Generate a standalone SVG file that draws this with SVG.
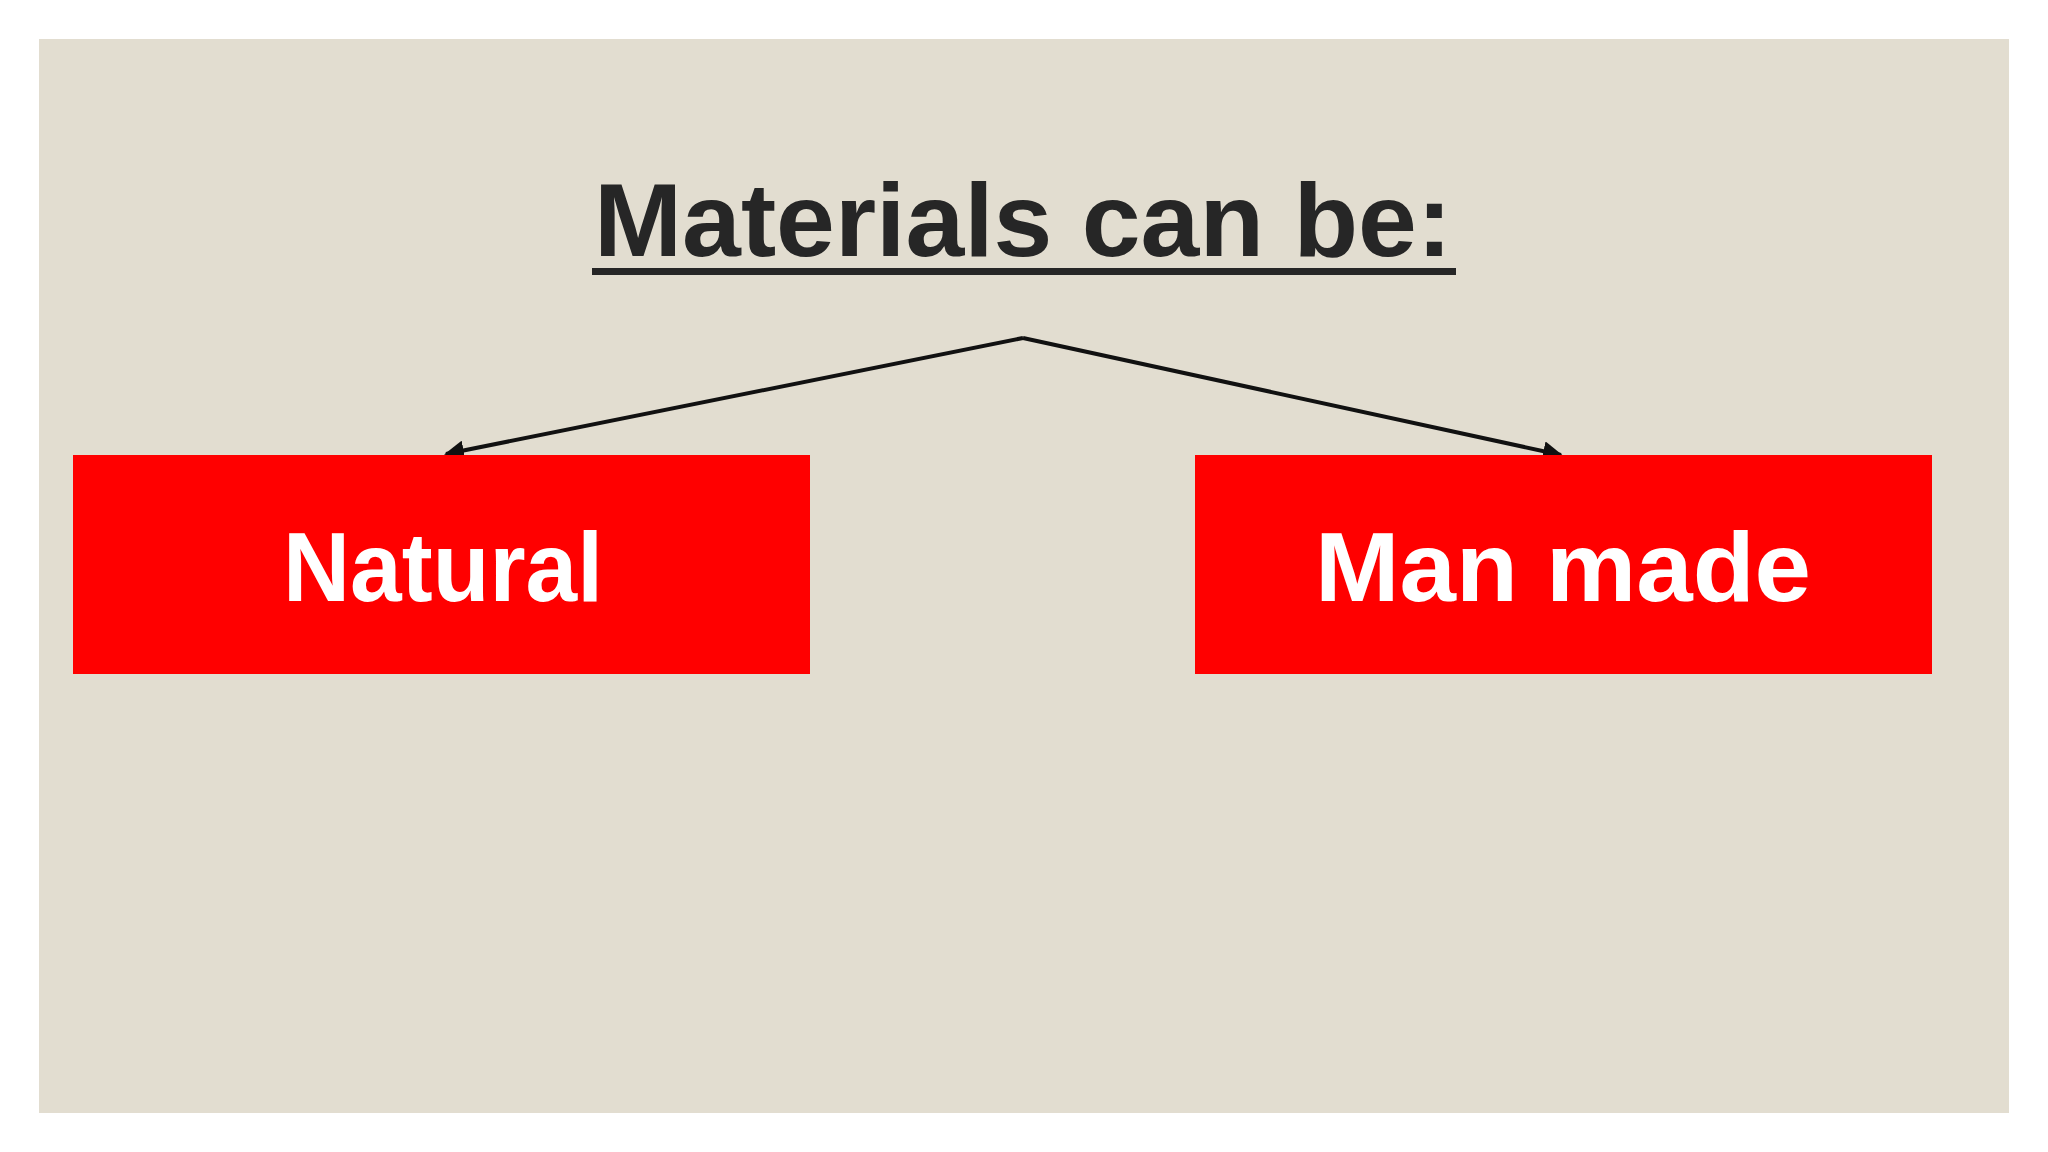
<svg xmlns="http://www.w3.org/2000/svg" width="2048" height="1152" viewBox="0 0 2048 1152">
<style>
.t{font-family:"Liberation Sans",Arial,sans-serif;font-weight:bold}
.box{fill:#ff0000}
.lbl{fill:#ffffff;font-size:98px}
.c{stroke:#111;stroke-width:4;fill:none}
</style>
<defs><marker id="a" viewBox="0 0 10 10" refX="9" refY="5" markerWidth="5" markerHeight="5" orient="auto"><path d="M0,0L10,5L0,10z" fill="#111"/></marker></defs>
<rect width="2048" height="1152" fill="#fff"/>
<rect x="39" y="39" width="1970" height="1074" fill="#e2ddd0"/>
<g id="title"><text class="t" x="594" y="256" font-size="104" fill="#262626" textLength="858" lengthAdjust="spacingAndGlyphs">Materials can be:</text>
<rect x="592" y="268" width="864" height="7" fill="#262626"/></g>
<g id="connectors">
<path class="c" d="M1023,338L446,454" marker-end="url(#a)"/>
<path class="c" d="M1023,338L1561,455" marker-end="url(#a)"/>
</g>
<g id="natural"><rect class="box" x="73" y="455" width="737" height="219"/>
<text class="t lbl" x="283" y="601" textLength="320" lengthAdjust="spacingAndGlyphs">Natural</text></g>
<g id="manmade"><rect class="box" x="1195" y="455" width="737" height="219"/>
<text class="t lbl" x="1315" y="601" textLength="496" lengthAdjust="spacingAndGlyphs">Man made</text></g>
</svg>
